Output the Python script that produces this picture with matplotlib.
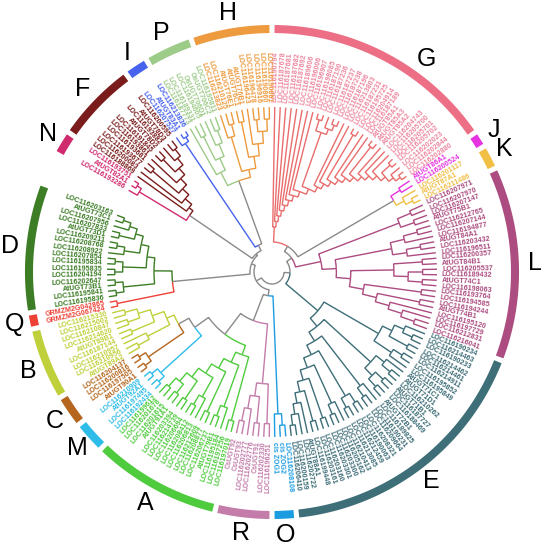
import numpy as np
import matplotlib.pyplot as plt

# Arvore circular de UGTs: grupos na ordem horaria a partir do topo
groups = ["G", "J", "K", "L", "E", "O", "R", "A", "M", "C", "B", "Q", "D", "N", "F", "I", "P", "H"]
backbone = "((((G,(J,K)),L),E),((O,(R,(A,(M,(C,B))))),((Q,D),((N,F),(I,(P,H))))))"

# topologia dentro de cada grupo (* = folha, na ordem dos rotulos)
shapes = {
    "G": "(*,(*,(*,(*,(*,(*,(*,(*,(((*,*),(*,(*,*))),(*,(*,((*,*),(*,(*,((*,*),(*,(*,(*,((*,*),(*,(*,*)))))))))))))))))))))",
    "J": "(*,*)",
    "K": "(*,(*,*))",
    "L": "(((*,*),(*,*)),((((*,*),*),((*,*),*)),(((*,*),((*,*),(*,*))),((*,*),((*,*),(*,(*,(*,*))))))))",
    "E": "((((*,(*,*)),(*,*)),((*,*),*)),(((*,(*,*)),((*,*),(*,*))),((*,(*,*)),(((*,*),(*,*)),((*,(*,*)),((*,*),((*,*),(*,(*,(*,*))))))))))",
    "O": "((*,*),*)",
    "R": "((*,*),((*,*),(*,(*,*))))",
    "A": "((*,*),((*,(*,*)),((*,*),((*,(*,*)),((*,*),((*,*),(*,*)))))))",
    "M": "((*,*),(*,*))",
    "C": "((*,*),(*,*))",
    "B": "(((*,*),*),((*,*),((*,*),(*,*))))",
    "Q": "(*,*)",
    "D": "(((*,*),(*,*)),(((*,*),(*,*)),((*,(*,*)),((*,*),(*,(*,*))))))",
    "N": "(*,(*,*))",
    "F": "(*,(*,((*,*),(*,((*,*),(*,(*,*)))))))",
    "I": "(*,(*,*))",
    "P": "(*,((*,*),(*,(*,*))))",
    "H": "((*,(*,*)),((*,*),(*,((*,*),(*,*)))))",
}

labels_G = ["LOC116190794", "LOC116187678", "LOC116187681", "LOC116187682", "LOC116187692",
            "LOC116189606", "LOC116196006", "LOC116196907", "LOC116198085", "LOC116187190",
            "LOC116187236", "LOC116187237", "LOC116187238", "LOC116187196", "LOC116213803",
            "LOC116187231", "LOC116195725", "LOC116204914", "LOC116187189", "AtUGT85A1",
            "AtUGT85A3", "AtUGT85A2", "LOC116204743", "LOC116205700", "LOC116205701",
            "LOC116205702", "LOC116202023", "LOC116202844", "LOC116202880"]
labels_J = ["AtUGT86A1", "LOC116200524"]
labels_K = ["LOC116201117", "AtUGT87A1", "LOC116211486"]
labels_L = ["LOC116207971", "LOC116207970", "LOC116207147", "AtUGT75B1", "LOC116212765",
            "LOC116207144", "LOC116194877", "AtUGT84A1", "LOC116203432", "LOC116196511",
            "LOC116200357", "AtUGT84B1", "LOC116205537", "LOC116189432", "AtUGT74C1",
            "LOC116198063", "LOC116193764", "LOC116194585", "LOC116194244", "AtUGT74B1",
            "LOC116195120", "LOC116197729", "LOC116212831", "LOC116216041"]
labels_E = ["LOC116190234", "LOC116214463", "LOC116190233", "LOC116214462", "LOC116214461",
            "LOC116214911", "LOC116195852", "LOC116195849", "AtUGT71C1", "AtUGT71D1",
            "LOC116210262", "AtUGT71B1", "LOC116187727", "LOC116188469", "AtUGT72B1",
            "LOC116189825", "LOC116190231", "LOC116209664", "LOC116208321", "LOC116190063",
            "LOC116212459", "LOC116213085", "LOC116210413", "LOC116205162", "LOC116203300",
            "LOC116203301", "LOC116203160", "LOC116203161", "LOC116199448", "AtUGT88A1",
            "LOC116202722", "LOC116200159", "LOC116206410"]
labels_O = ["LOC116208108", "cis ZOG2", "cis ZOG1"]
labels_R = ["LOC116196251", "LOC116202330", "CsUGT91", "LOC116202776", "LOC116202777",
            "CsUGT93", "CsUGT92"]
labels_A = ["LOC116197019", "LOC116197256", "LOC116195184", "AtUGT79B1", "LOC116206737",
            "LOC116208877", "LOC116212609", "LOC116206813", "LOC116208412", "LOC116206694",
            "LOC116214739", "LOC116203394", "AtUGT91A1", "LOC116201615", "LOC116201678",
            "LOC116199612"]
labels_M = ["LOC116192434", "LOC116197495", "AtUGT92A1", "LOC116210909"]
labels_C = ["AtUGT90A1", "LOC116197505", "LOC116200816", "LOC116204137"]
labels_B = ["AtUGT89A2", "LOC116210956", "LOC116210957", "LOC116187144", "AtUGT89B1",
            "LOC116214620", "LOC116210847", "LOC116215002", "LOC116215330"]
labels_Q = ["GRMZM2G067424", "GRMZM2G042865"]
labels_D = ["LOC116195836", "LOC116195841", "AtUGT73B1", "LOC116202647", "LOC116204194",
            "LOC116195835", "LOC116195834", "LOC116207854", "LOC116208922", "LOC116208768",
            "LOC116209211", "AtUGT73D1", "LOC116207833", "LOC116207956", "AtUGT73C1",
            "LOC116203163"]
labels_N = ["LOC116193286", "AtUGT82A1", "LOC116193751"]
labels_F = ["LOC116188869", "LOC116200083", "LOC116193677", "LOC116193681", "LOC116193861",
            "LOC116191845", "AtUGT78D2", "LOC116193882", "AtUGT78D3", "LOC116200595"]
labels_I = ["LOC116207527", "AtUGT83A1", "LOC116213836"]
labels_P = ["LOC116187773", "LOC116189331", "LOC116194605", "OsUGT706D1", "OsUGT706C2",
            "LOC116195811"]
labels_H = ["LOC116213823", "LOC116210125", "AtUGT76E1", "AtUGT76C1", "AtUGT76B1",
            "LOC116196423", "LOC116196478", "LOC116196916", "LOC116190860", "LOC116190861"]

labels = {"G": labels_G, "J": labels_J, "K": labels_K, "L": labels_L, "E": labels_E,
          "O": labels_O, "R": labels_R, "A": labels_A, "M": labels_M, "C": labels_C,
          "B": labels_B, "Q": labels_Q, "D": labels_D, "N": labels_N, "F": labels_F,
          "I": labels_I, "P": labels_P, "H": labels_H}

cores = {"G": "#EC6F86", "J": "#E633E0", "K": "#F1BF45", "L": "#AC4C80", "E": "#3E6E78",
         "O": "#1C9DE2", "R": "#C47CAA", "A": "#4FCC3E", "M": "#2DBDE8", "C": "#B5651D",
         "B": "#C0D03A", "Q": "#EE4035", "D": "#3C7D25", "N": "#D12B6F", "F": "#7B1C1C",
         "I": "#4763EE", "P": "#9DCB88", "H": "#EE9B40"}
cor_ramo = dict(cores, G="#E96D6D")
cor_rotulo = dict(cores, G="#EE88A0")

# layout (pixels a partir do centro)
R_TIP = 165
R_LAB = 170
R_ARC = 243
R_LET = 263
raio_grupo = {"G": 45, "J": 152, "K": 150, "L": 50, "E": 60, "O": 142, "R": 112, "A": 88,
              "M": 150, "C": 150, "B": 115, "Q": 158, "D": 118, "N": 155, "F": 105,
              "I": 155, "P": 112, "H": 105}
raio_espinha = {"JK": 141, "PH": 97, "NF": 100, "QD": 100, "CB": 107, "MB": 95, "AB": 78,
                "RB": 52, "IH": 30, "NH": 24, "OH": 18, "GE": 18, "QH": 22}
espaco_antes = {"N": 4}
frac_letra = {"G": 0.65}


def parse(s):
    pos = 0

    def no():
        nonlocal pos
        if s[pos] == "(":
            pos += 1
            filhos = [no()]
            while s[pos] == ",":
                pos += 1
                filhos.append(no())
            assert s[pos] == ")"
            pos += 1
            return filhos
        j = pos
        while pos < len(s) and s[pos] not in "(),":
            pos += 1
        return s[j:pos]

    arv = no()
    assert pos == len(s), s
    return arv


def monta_grupo(tok, g, nomes):
    if isinstance(tok, list):
        return {"kids": [monta_grupo(t, g, nomes) for t in tok], "group": g}
    return {"kids": [], "group": g, "label": nomes.pop(0)}


def monta(tok):
    if isinstance(tok, list):
        return {"kids": [monta(t) for t in tok], "group": None}
    nomes = list(labels[tok])
    n = monta_grupo(parse(shapes[tok]), tok, nomes)
    assert not nomes, tok
    n["groot"] = True
    return n


raiz = monta(parse(backbone))

# posicao angular das folhas
folhas = []


def coleta(n):
    if not n["kids"]:
        folhas.append(n)
    for k in n["kids"]:
        coleta(k)


coleta(raiz)
total = len(folhas) + sum(espaco_antes.values())
passo = 360.0 / total
slot = 0
visto = set()
for f in folhas:
    g = f["group"]
    if g not in visto:
        visto.add(g)
        slot += espaco_antes.get(g, 0)
    f["theta"] = (slot + 0.5) * passo
    slot += 1


def altura(n):
    if not n["kids"]:
        n["h"] = 0
    else:
        n["h"] = 1 + max(altura(k) for k in n["kids"])
        n["theta"] = 0.5 * (n["kids"][0]["theta"] + n["kids"][-1]["theta"])
        n["g0"] = n["kids"][0].get("g0", n["kids"][0]["group"])
        n["g1"] = n["kids"][-1].get("g1", n["kids"][-1]["group"])
    return n["h"]


altura(raiz)


def raios(n, pai_r, prof, h_g, r_g):
    if n.get("groot"):
        h_g = n["h"]
        r_g = max(raio_grupo[n["group"]], pai_r + 4)
    if n["group"] is None:
        n["r"] = raio_espinha.get(n["g0"] + n["g1"], 12 + 6 * prof)
    elif not n["kids"]:
        n["r"] = R_TIP
    else:
        n["r"] = R_TIP - (R_TIP - r_g) * n["h"] / h_g
    for k in n["kids"]:
        raios(k, n["r"], prof + 1, h_g, r_g)


raios(raiz, 0, 0, 1, 0)


def xy(r, th):
    t = np.radians(th)
    return r * np.sin(t), r * np.cos(t)


fig = plt.figure(figsize=(5.44, 5.5), dpi=100)
ax = fig.add_axes([0, 0, 1, 1])
ax.set_xlim(-272, 272)
ax.set_ylim(-278, 272)
ax.set_aspect("equal")
ax.axis("off")


def desenha(n):
    for k in n["kids"]:
        cor = cor_ramo[k["group"]] if k["group"] else "#8A8A8A"
        nseg = int(abs(k["theta"] - n["theta"]) * 2) + 2
        ts = np.linspace(n["theta"], k["theta"], nseg)
        xs, ys = xy(n["r"], ts)
        x2, y2 = xy(k["r"], k["theta"])
        ax.plot(np.append(xs, x2), np.append(ys, y2), color=cor, lw=1.0,
                solid_joinstyle="miter", solid_capstyle="butt")
        desenha(k)


desenha(raiz)

for f in folhas:
    th = f["theta"]
    x, y = xy(R_LAB, th)
    if th < 180:
        rot, ha = 90 - th, "left"
    else:
        rot, ha = 270 - th, "right"
    ax.text(x, y, f["label"], rotation=rot, rotation_mode="anchor", ha=ha, va="center",
            fontsize=5.1, fontweight="bold", family="Liberation Sans",
            color=cor_rotulo[f["group"]])

# arcos dos grupos e letras
for g in groups:
    ths = [f["theta"] for f in folhas if f["group"] == g]
    t0 = min(ths) - 0.5 * passo + 0.6
    t1 = max(ths) + 0.5 * passo - 0.6
    ts = np.linspace(t0, t1, 100)
    xs, ys = xy(R_ARC, ts)
    ax.plot(xs, ys, color=cores[g], lw=5.8, solid_capstyle="butt")
    tl = t0 + frac_letra.get(g, 0.5) * (t1 - t0)
    x, y = xy(R_LET, tl)
    ax.text(x, y, g, ha="center", va="center", fontsize=18, family="Liberation Sans",
            color="black")

fig.savefig("out.png", dpi=100)
